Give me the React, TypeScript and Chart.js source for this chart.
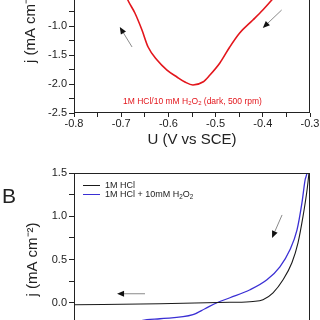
import React, { useEffect, useRef } from "react";
import { Chart, registerables } from "chart.js";
Chart.register(...registerables);

// Panel A: red curve (1M HCl / 10 mM H2O2, dark, 500 rpm)
const redU = [-0.700, -0.690, -0.686, -0.671, -0.656, -0.643, -0.624, -0.603, -0.582, -0.565, -0.548, -0.527, -0.512, -0.491, -0.470, -0.449, -0.421, -0.400, -0.381, -0.372, -0.360];
const redJ = [-0.25, -0.47, -0.552, -0.776, -1.069, -1.362, -1.586, -1.759, -1.879, -1.966, -2.017, -1.966, -1.845, -1.638, -1.362, -1.121, -0.897, -0.724, -0.552, -0.466, -0.30];

// Panel B: black (1M HCl) and blue (1M HCl + 10mM H2O2)
const hclU = [-0.200, 0.237, 0.593, 0.710, 0.761, 0.812, 0.863, 0.908, 0.939, 0.964, 0.985, 0.995, 1.000];
const hclJ = [-0.023, -0.012, 0.005, 0.015, 0.035, 0.115, 0.265, 0.462, 0.692, 0.992, 1.304, 1.500, 1.590];
const h2o2U = [-0.200, -0.017, 0.171, 0.237, 0.405, 0.466, 0.527, 0.593, 0.695, 0.781, 0.847, 0.898, 0.934, 0.959, 0.975, 0.985, 0.990];
const h2o2J = [-0.40, -0.31, -0.196, -0.185, -0.138, -0.069, 0.000, 0.058, 0.150, 0.265, 0.415, 0.612, 0.842, 1.154, 1.419, 1.512, 1.650];

// Axis ranges and ticks
const topXRange = [-0.8, -0.3];
const topYRange = [-2.5, 0.5];
const botXRange = [-0.2, 1.0];
const botYRange = [-0.5, 1.5];

// Arrow annotations, in data coordinates [tailX, tailY, headX, headY]
const topArrows = [
  [-0.677, -1.362, -0.703, -1.017],
  [-0.360, -0.724, -0.400, -1.034],
];
const botArrows = [
  [0.161, 0.104, 0.019, 0.104],
  [0.858, 1.015, 0.807, 0.750],
];

const FONT = "Arial, 'Liberation Sans', sans-serif";
const INK = "#222";

function isMajor(v: number, step: number) {
  const r = v / step;
  return Math.abs(r - Math.round(r)) < 1e-6;
}

function makePlugins(arrows: number[][]) {
  return [
    {
      id: "frameArrows",
      afterDatasetsDraw(chart: any) {
        const { ctx, chartArea } = chart;
        const xs = chart.scales.x;
        const ys = chart.scales.y;
        ctx.save();
        ctx.strokeStyle = INK;
        ctx.lineWidth = 1;
        ctx.strokeRect(
          Math.round(chartArea.left) + 0.5,
          Math.round(chartArea.top) + 0.5,
          Math.round(chartArea.right - chartArea.left) - 1,
          Math.round(chartArea.bottom - chartArea.top) - 1
        );
        for (const a of arrows) {
          const x1 = xs.getPixelForValue(a[0]);
          const y1 = ys.getPixelForValue(a[1]);
          const x2 = xs.getPixelForValue(a[2]);
          const y2 = ys.getPixelForValue(a[3]);
          const ang = Math.atan2(y2 - y1, x2 - x1);
          const hl = 7;
          const hw = 3;
          const bx = x2 - hl * Math.cos(ang);
          const by = y2 - hl * Math.sin(ang);
          ctx.strokeStyle = "#8a8a8a";
          ctx.lineWidth = 1;
          ctx.beginPath();
          ctx.moveTo(x1, y1);
          ctx.lineTo(bx, by);
          ctx.stroke();
          ctx.fillStyle = "#111";
          ctx.beginPath();
          ctx.moveTo(x2, y2);
          ctx.lineTo(bx + hw * Math.sin(ang), by - hw * Math.cos(ang));
          ctx.lineTo(bx - hw * Math.sin(ang), by + hw * Math.cos(ang));
          ctx.closePath();
          ctx.fill();
        }
        ctx.restore();
      },
    },
  ];
}

function toPts(xs: number[], ys: number[]) {
  return xs.map((x, i) => ({ x, y: ys[i] }));
}

function TopChart() {
  const ref = useRef<HTMLCanvasElement>(null);
  useEffect(() => {
    const chart = new Chart(ref.current!, {
      type: "scatter",
      data: {
        datasets: [
          {
            data: toPts(redU, redJ),
            showLine: true,
            borderColor: "#e3161c",
            borderWidth: 1.6,
            pointRadius: 0,
            cubicInterpolationMode: "monotone",
          } as any,
        ],
      },
      options: {
        responsive: false,
        animation: false,
        layout: { padding: { top: 9, right: 10, left: 0, bottom: 0 } },
        plugins: { legend: { display: false }, tooltip: { enabled: false } },
        scales: {
          x: {
            type: "linear",
            min: topXRange[0],
            max: topXRange[1],
            border: { display: false },
            grid: { drawOnChartArea: false, drawTicks: true, tickLength: 4, color: INK },
            ticks: {
              stepSize: 0.05,
              autoSkip: false,
              maxRotation: 0,
              padding: 0,
              color: INK,
              font: { family: FONT, size: 11 },
              callback: (v: any) => (isMajor(Number(v), 0.1) ? Number(v).toFixed(1) : ""),
            },
            title: {
              display: true,
              text: "U (V vs SCE)",
              color: INK,
              font: { family: FONT, size: 15 },
              padding: { top: 0, bottom: 4 },
            },
            afterFit: (s: any) => {
              s.height = 40;
              s.paddingLeft = 0;
              s.paddingRight = 0;
            },
          },
          y: {
            type: "linear",
            min: topYRange[0],
            max: topYRange[1],
            border: { display: false },
            grid: { drawOnChartArea: false, drawTicks: true, tickLength: 5, color: INK },
            ticks: {
              stepSize: 0.25,
              autoSkip: false,
              padding: 2,
              color: INK,
              font: { family: FONT, size: 11 },
              callback: (v: any) => (isMajor(Number(v), 0.5) ? Number(v).toFixed(1) : ""),
            },
            title: {
              display: true,
              text: "j (mA cm\u207B\u00B2)",
              color: INK,
              font: { family: FONT, size: 15 },
              padding: { top: 22, bottom: 0 },
            },
            afterFit: (s: any) => {
              s.width = 74;
              s.paddingTop = 0;
              s.paddingBottom = 0;
            },
          },
        },
      } as any,
      plugins: makePlugins(topArrows) as any,
    });
    return () => chart.destroy();
  }, []);
  return (
    <canvas
      ref={ref}
      width={320}
      height={223}
      style={{ position: "absolute", left: 0, top: -70, width: 320, height: 223 }}
    />
  );
}

function BottomChart() {
  const ref = useRef<HTMLCanvasElement>(null);
  useEffect(() => {
    const chart = new Chart(ref.current!, {
      type: "scatter",
      data: {
        datasets: [
          {
            label: "1M HCl",
            data: toPts(hclU, hclJ),
            showLine: true,
            borderColor: "#1a1a1a",
            borderWidth: 1.1,
            pointRadius: 0,
            cubicInterpolationMode: "monotone",
          } as any,
          {
            label: "1M HCl + 10mM H\u2082O\u2082",
            data: toPts(h2o2U, h2o2J),
            showLine: true,
            borderColor: "#3a2fd4",
            borderWidth: 1.3,
            pointRadius: 0,
            cubicInterpolationMode: "monotone",
          } as any,
        ],
      },
      options: {
        responsive: false,
        animation: false,
        layout: { padding: { top: 18, right: 10, left: 0, bottom: 9 } },
        plugins: { legend: { display: false }, tooltip: { enabled: false } },
        scales: {
          x: {
            type: "linear",
            min: botXRange[0],
            max: botXRange[1],
            display: false,
          },
          y: {
            type: "linear",
            min: botYRange[0],
            max: botYRange[1],
            border: { display: false },
            grid: { drawOnChartArea: false, drawTicks: true, tickLength: 5, color: INK },
            ticks: {
              stepSize: 0.25,
              autoSkip: false,
              padding: 2,
              color: INK,
              font: { family: FONT, size: 11 },
              callback: (v: any) => (isMajor(Number(v), 0.5) ? Number(v).toFixed(1) : ""),
            },
            title: {
              display: true,
              text: "j (mA cm\u207B\u00B2)",
              color: INK,
              font: { family: FONT, size: 15 },
              padding: { top: 24, bottom: 0 },
            },
            afterFit: (s: any) => {
              s.width = 74;
              s.paddingTop = 0;
              s.paddingBottom = 0;
            },
          },
        },
      } as any,
      plugins: makePlugins(botArrows) as any,
    });
    return () => chart.destroy();
  }, []);
  return (
    <canvas
      ref={ref}
      width={320}
      height={200}
      style={{ position: "absolute", left: 0, top: 155, width: 320, height: 200 }}
    />
  );
}

const textBase: React.CSSProperties = {
  position: "absolute",
  fontFamily: FONT,
  whiteSpace: "nowrap",
  margin: 0,
};
const subStyle: React.CSSProperties = { fontSize: "0.7em", verticalAlign: "-0.25em", lineHeight: 0 };

export default function App() {
  return (
    <div
      style={{
        position: "fixed",
        left: 0,
        top: 0,
        width: 320,
        height: 320,
        overflow: "hidden",
        background: "#fff",
      }}
    >
      <TopChart />
      <BottomChart />
      <div style={{ ...textBase, left: 123, top: 96, fontSize: 8.5, lineHeight: "10px", color: "#e3161c" }}>
        1M HCl/10 mM H<span style={subStyle}>2</span>O<span style={subStyle}>2</span> (dark, 500 rpm)
      </div>
      <div style={{ ...textBase, left: 2, top: 185, fontSize: 21, lineHeight: 1, color: INK }}>B</div>
      <div style={{ position: "absolute", left: 83, top: 185, width: 17, height: 1, background: "#1a1a1a" }} />
      <div style={{ ...textBase, left: 105, top: 180, fontSize: 9, lineHeight: "10px", color: INK }}>1M HCl</div>
      <div style={{ position: "absolute", left: 83, top: 194, width: 17, height: 1, background: "#3a2fd4" }} />
      <div style={{ ...textBase, left: 105, top: 189, fontSize: 9, lineHeight: "10px", color: INK }}>
        1M HCl + 10mM H<span style={subStyle}>2</span>O<span style={subStyle}>2</span>
      </div>
    </div>
  );
}
